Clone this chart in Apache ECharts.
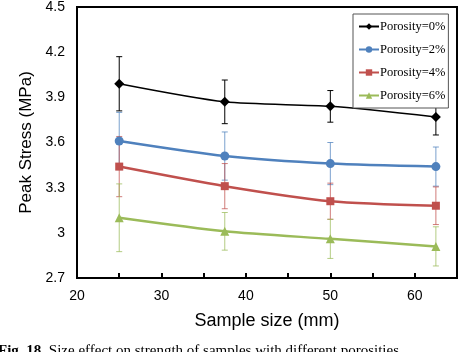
<!DOCTYPE html>
<html>
<head>
<meta charset="utf-8">
<script src="https://cdn.jsdelivr.net/npm/echarts@6/dist/echarts.min.js"></script>
<style>
  html, body { margin: 0; padding: 0; background: #fff; }
  #chart { width: 474px; height: 352px; }
</style>
</head>
<body>
<div id="chart"></div>
<script>
// sample sizes (mm)
var sizes = [25, 37.5, 50, 62.5];
var seriesNames = ["Porosity=0%", "Porosity=2%", "Porosity=4%", "Porosity=6%"];
// peak stress (MPa)
var p0 = [3.99, 3.87, 3.84, 3.77];
var p2 = [3.61, 3.51, 3.46, 3.44];
var p4 = [3.44, 3.31, 3.21, 3.18];
var p6 = [3.10, 3.01, 2.96, 2.91];
// error bar half-length
var e0 = [0.18, 0.145, 0.105, 0.12];
var e2 = [0.19, 0.16, 0.14, 0.13];
var e4 = [0.20, 0.15, 0.12, 0.125];
var e6 = [0.225, 0.125, 0.13, 0.13];
var yTicks = [2.7, 3, 3.3, 3.6, 3.9, 4.2, 4.5];

var colors = ["#000000", "#4f81bd", "#c0504d", "#9bbb59"];
var symbols = ["diamond", "circle", "rect", "triangle"];
var symSizes = [10, 9, 8, 9];
var values = [p0, p2, p4, p6];
var errors = [e0, e2, e4, e6];

var chart = echarts.init(document.getElementById("chart"));

var series = [];
values.forEach(function (vals, i) {
  // error bars
  series.push({
    name: seriesNames[i] + "_err",
    type: "custom",
    z: 1,
    data: sizes.map(function (s, k) {
      return [s, vals[k] - errors[i][k], vals[k] + errors[i][k]];
    }),
    renderItem: function (params, api) {
      var lo = api.coord([api.value(0), api.value(1)]);
      var hi = api.coord([api.value(0), api.value(2)]);
      var w = 3;
      var st = { stroke: colors[i], lineWidth: 1, opacity: i === 0 ? 1 : 0.75 };
      return {
        type: "group",
        children: [
          { type: "line", shape: { x1: lo[0], y1: lo[1], x2: hi[0], y2: hi[1] }, style: st },
          { type: "line", shape: { x1: lo[0] - w, y1: lo[1], x2: lo[0] + w, y2: lo[1] }, style: st },
          { type: "line", shape: { x1: hi[0] - w, y1: hi[1], x2: hi[0] + w, y2: hi[1] }, style: st }
        ]
      };
    },
    encode: { x: 0, y: [1, 2] },
    silent: true
  });
  series.push({
    name: seriesNames[i],
    type: "line",
    z: 3,
    smooth: 0.25,
    symbol: symbols[i],
    symbolSize: symSizes[i],
    data: sizes.map(function (s, k) { return [s, vals[k]]; }),
    lineStyle: { color: colors[i], width: i === 0 ? 1.5 : 2.5 },
    itemStyle: { color: colors[i] }
  });
});

chart.setOption({
  animation: false,
  backgroundColor: "#fff",
  grid: {
    left: 77, right: 17, top: 7, bottom: 74,
    show: true, borderColor: "#000", borderWidth: 2, backgroundColor: "transparent"
  },
  legend: {
    data: seriesNames,
    orient: "vertical",
    left: 353, top: 14,
    padding: [6, 3, 6, 5],
    itemGap: 10,
    itemWidth: 20, itemHeight: 8,
    borderColor: "#555", borderWidth: 1,
    backgroundColor: "#fff",
    textStyle: { fontFamily: "Liberation Serif", fontSize: 12.5, color: "#000", padding: [0, 0, 0, -4] }
  },
  xAxis: {
    type: "value",
    min: 20, max: 65, interval: 5,
    name: "Sample size (mm)",
    nameLocation: "middle",
    nameGap: 34,
    nameTextStyle: { fontFamily: "Liberation Sans", fontSize: 18, color: "#000" },
    axisLine: { lineStyle: { color: "#000", width: 2 } },
    axisTick: { inside: true, length: 5, lineStyle: { color: "#000", width: 2 } },
    axisLabel: {
      margin: 11,
      fontFamily: "Liberation Sans", fontSize: 14, color: "#000",
      formatter: function (v) { return v % 10 === 0 ? String(v) : ""; }
    },
    splitLine: { show: false }
  },
  yAxis: {
    type: "value",
    min: yTicks[0], max: yTicks[yTicks.length - 1], interval: 0.3,
    name: "Peak Stress (MPa)",
    nameLocation: "middle",
    nameGap: 38,
    nameTextStyle: { fontFamily: "Liberation Sans", fontSize: 17, color: "#000" },
    axisLine: { show: true, lineStyle: { color: "#000", width: 2 } },
    axisTick: { show: false },
    axisLabel: {
      margin: 12,
      fontFamily: "Liberation Sans", fontSize: 14, color: "#000",
      formatter: function (v) { return String(+v.toFixed(1)); }
    },
    splitLine: { show: false }
  },
  graphic: [{
    type: "text",
    left: -2, top: 344,
    style: {
      text: "{b|Fig. 18}  Size effect on strength of samples with different porosities",
      rich: { b: { fontWeight: "bold", fontFamily: "Liberation Serif", fontSize: 15 } },
      fontFamily: "Liberation Serif", fontSize: 15, fill: "#000"
    }
  }],
  series: series
});
</script>
</body>
</html>
